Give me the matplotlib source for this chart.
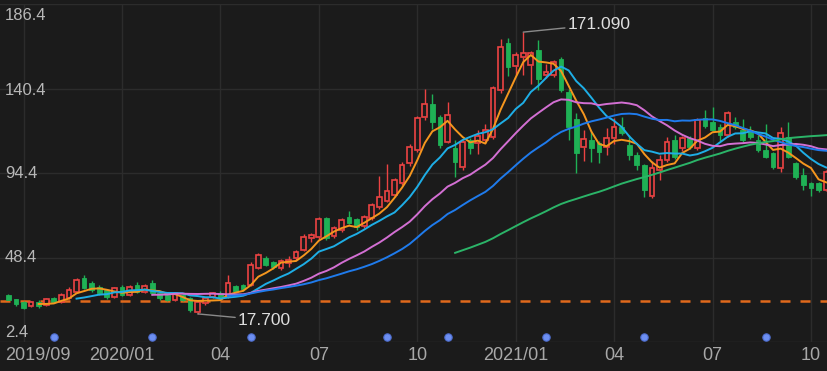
import pandas as pd
import numpy as np
import matplotlib.pyplot as plt
from matplotlib.transforms import blended_transform_factory

# weekly candles, first bar = week ending 2019-09-20
start_week = '2019-09-20'

opens = [28.0, 25.6, 24.4, 22.0, 24.2, 22.5, 26.2, 24.0, 26.5, 29.5,
         37.0, 34.3, 32.5, 30.7, 27.1, 32.5, 28.0, 33.4, 29.8, 34.3,
         28.9, 28.0, 25.3, 28.0, 26.2, 18.9, 23.4, 26.8, 29.3, 27.1,
         32.9, 33.4, 33.5, 42.8, 48.3, 45.8, 42.5, 45.6, 48.0, 52.5,
         58.8, 59.4, 69.7, 60.0, 63.4, 70.6, 69.2, 65.5, 69.7, 75.7,
         79.3, 82.4, 89.0, 99.7, 106.9, 124.7, 132.0, 124.7, 111.4, 107.8,
         97.5, 112.4, 110.9, 112.4, 114.2, 139.6, 165.0, 152.6, 157.7, 153.2,
         161.4, 147.7, 147.7, 156.3, 138.7, 123.6, 108.4, 112.4, 110.6, 108.7,
         113.3, 119.6, 109.6, 104.2, 98.8, 81.9, 96.0, 101.5, 112.4, 107.8,
         113.3, 107.8, 124.2, 122.3, 119.6, 115.1, 122.3, 117.8, 116.9, 112.4,
         106.9, 105.1, 96.9, 114.2, 99.7, 93.3, 88.8, 88.8, 85.1]
highs = [28.8, 26.0, 24.8, 24.6, 25.0, 26.4, 27.0, 29.0, 32.5, 37.0,
         39.0, 35.5, 33.5, 31.5, 32.5, 33.5, 33.5, 35.0, 33.8, 36.0,
         29.8, 28.8, 29.8, 28.8, 26.8, 25.0, 26.8, 29.8, 30.2, 38.9,
         33.6, 34.0, 46.2, 50.7, 49.2, 46.5, 47.5, 49.0, 52.5, 61.0,
         62.0, 70.5, 70.5, 65.5, 70.0, 73.9, 70.0, 71.5, 78.0, 92.8,
         99.3, 91.5, 100.6, 110.0, 125.5, 140.0, 137.2, 126.0, 133.2, 112.4,
         112.5, 113.5, 118.0, 121.0, 142.0, 167.2, 168.0, 160.0, 171.09, 161.0,
         166.8, 154.0, 156.0, 157.5, 140.0, 127.0, 118.0, 117.0, 112.0, 118.7,
         124.2, 125.0, 115.0, 106.0, 99.5, 101.0, 104.0, 114.0, 115.0, 114.5,
         114.5, 124.6, 128.7, 130.2, 121.0, 128.0, 125.0, 124.0, 120.0, 115.0,
         121.1, 106.0, 119.3, 122.0, 100.5, 97.0, 89.5, 89.5, 96.0]
lows = [25.0, 21.8, 20.5, 21.6, 20.8, 22.0, 23.8, 23.5, 26.0, 29.0,
        31.0, 29.8, 28.2, 26.0, 26.2, 27.5, 27.5, 29.0, 29.2, 28.2,
        25.5, 24.6, 24.8, 24.5, 18.6, 17.7, 22.8, 26.2, 25.8, 26.5,
        29.8, 30.2, 32.8, 42.0, 43.8, 42.0, 41.8, 43.5, 47.2, 51.8,
        57.0, 58.5, 58.0, 59.0, 62.5, 66.5, 63.5, 64.5, 69.0, 75.0,
        78.5, 81.5, 88.0, 98.0, 106.0, 123.5, 118.2, 108.0, 110.5, 92.4,
        96.0, 104.7, 105.0, 111.0, 113.0, 138.0, 147.0, 148.0, 147.7, 143.0,
        139.6, 146.0, 146.5, 138.5, 112.4, 94.6, 101.0, 100.6, 100.0, 104.0,
        110.0, 115.0, 101.5, 96.0, 81.2, 81.0, 90.6, 100.5, 102.0, 106.5,
        107.5, 107.0, 119.0, 117.0, 112.0, 114.0, 118.5, 111.5, 113.0, 106.0,
        102.5, 96.5, 95.0, 102.5, 91.0, 85.0, 81.9, 84.0, 84.5]
closes = [25.5, 23.0, 21.0, 24.2, 21.8, 25.6, 24.4, 28.0, 30.5, 36.1,
          31.6, 30.7, 29.0, 26.7, 31.6, 28.0, 32.5, 29.8, 33.0, 28.9,
          26.2, 25.3, 28.9, 25.3, 19.8, 24.4, 26.2, 29.3, 26.2, 34.3,
          30.4, 31.0, 44.5, 49.5, 44.5, 43.0, 46.5, 47.0, 51.6, 59.5,
          60.6, 69.2, 58.8, 64.5, 68.8, 67.4, 65.2, 70.6, 77.0, 81.5,
          84.8, 90.6, 98.5, 108.5, 124.2, 132.0, 122.3, 109.6, 125.9, 100.6,
          111.4, 107.8, 114.5, 117.8, 140.5, 163.2, 152.0, 158.6, 159.5, 159.9,
          145.4, 149.6, 155.0, 139.6, 119.6, 105.1, 112.7, 107.8, 106.0, 113.3,
          119.3, 116.0, 104.2, 98.8, 85.1, 97.0, 101.5, 111.4, 103.3, 113.3,
          108.7, 123.2, 120.0, 117.8, 115.1, 126.9, 119.6, 112.4, 114.2, 107.0,
          103.3, 97.9, 116.0, 103.3, 92.4, 87.9, 86.1, 85.1, 95.1]

ma_windows = [5, 10, 20, 30, 60]
ma_colors = ['#f5961e', '#1eaee6', '#d36fd3', '#1f7bec', '#2bb468']

# weeks with an event marker (blue dots)
event_weeks = [6, 19, 32, 50, 58, 71, 84, 100]

ref_price = 24.7
y_ticks = [2.4, 48.4, 94.4, 140.4, 186.4]
first_label = '2019/09'

BG = '#1b1b1b'
UP = '#ec4343'
DOWN = '#1fb155'
GRID = '#2c2c2c'

df = pd.DataFrame({'open': opens, 'high': highs, 'low': lows, 'close': closes})
df['date'] = pd.date_range(start_week, periods=len(df), freq='W-FRI')
x = np.arange(len(df))

plt.rcParams['font.family'] = ['Liberation Sans', 'DejaVu Sans']

fig = plt.figure(figsize=(8.27, 3.71), dpi=100, facecolor=BG)
ax = fig.add_axes([0, 29 / 371, 1, 338 / 371])
ax.set_facecolor(BG)
for s in ax.spines.values():
    s.set_visible(False)
ax.set_xlim(-1.11, 108.12)
ax.set_ylim(y_ticks[0], y_ticks[-1])
ax.set_xticks([])
ax.set_yticks([])

# horizontal grid + y labels
ytrans = blended_transform_factory(ax.transAxes, ax.transData)
for k, v in enumerate(y_ticks):
    ax.axhline(v, color='#333333' if k == 0 else GRID, lw=1, zorder=0)
    dy = 0
    if k == 0:
        dy = 6.5
    elif k == len(y_ticks) - 1:
        dy = -8
    elif v == 140.4:
        dy = -1.5
    ax.annotate(f'{v:.1f}', xy=(0, v), xycoords=ytrans, xytext=(3.5, dy),
                textcoords='offset points', ha='left', va='center',
                fontsize=12, color='#b8b8b8', zorder=6)

# quarter gridlines; the first one is covered by the start label
months = df['date'].dt.month
new_month = months.ne(months.shift())
tick_idx = [i for i in x if new_month[i] and months[i] in (1, 4, 7, 10) and i > 0]
xtrans = blended_transform_factory(ax.transData, ax.transAxes)
ax.text(0.006, -0.04, first_label, transform=ax.transAxes, ha='left', va='center',
        fontsize=13, color='#a8a8a8')
for i in tick_idx:
    ax.axvline(i, color=GRID, lw=1, zorder=0)
    if i < 8:
        continue
    d = df['date'][i]
    lab = f'{d.year}/{d.month:02d}' if d.month == 1 else f'{d.month:02d}'
    ax.text(i, -0.04, lab, transform=xtrans, ha='center', va='center',
            fontsize=13, color='#a8a8a8', clip_on=False)

# reference dashed line
ax.axhline(ref_price, color='#e0691c', lw=1.8, ls=(0, (4, 4)), zorder=1)

# candles
up = df['close'] >= df['open']
body_lo = np.minimum(df['open'], df['close'])
body_hi = np.maximum(df['open'], df['close'])
height = np.maximum(body_hi - body_lo, 0.4)
w = 0.62
ax.vlines(x[~up], df['low'][~up], df['high'][~up], color=DOWN, lw=1, zorder=3)
ax.bar(x[~up], height[~up], bottom=body_lo[~up], width=w, color=DOWN,
       edgecolor=DOWN, lw=0.6, zorder=3)
ax.vlines(x[up], df['low'][up], body_lo[up], color=UP, lw=1, zorder=3)
ax.vlines(x[up], body_hi[up], df['high'][up], color=UP, lw=1, zorder=3)
ax.bar(x[up], height[up], bottom=body_lo[up], width=w, color=BG,
       edgecolor=UP, lw=1.2, zorder=3)

# moving averages
for n, c in zip(ma_windows, ma_colors):
    ma = df['close'].rolling(n).mean()
    ax.plot(x, ma, color=c, lw=1.4, zorder=4)

# event markers
ax.scatter(event_weeks, [0.015] * len(event_weeks), transform=xtrans, s=28,
           color='#6d8ff2', edgecolor='#4f6fd0', lw=0.8, zorder=5, clip_on=False)

# max / min labels
imax = int(np.argmax(highs))
imin = int(np.argmin(lows))
ax.annotate(f'{highs[imax]:.3f}', xy=(imax, highs[imax]), xytext=(32, 5.5),
            textcoords='offset points', ha='left', va='center', fontsize=12.5,
            color='#dedede', arrowprops=dict(arrowstyle='-', color='#8a8a8a', lw=1,
                                             shrinkA=0, shrinkB=0), zorder=6)
ax.annotate(f'{lows[imin]:.3f}', xy=(imin, lows[imin]), xytext=(29, -4.5),
            textcoords='offset points', ha='left', va='center', fontsize=12.5,
            color='#dedede', arrowprops=dict(arrowstyle='-', color='#8a8a8a', lw=1,
                                             shrinkA=0, shrinkB=0), zorder=6)

fig.savefig('out.png', dpi=100, facecolor=BG)
